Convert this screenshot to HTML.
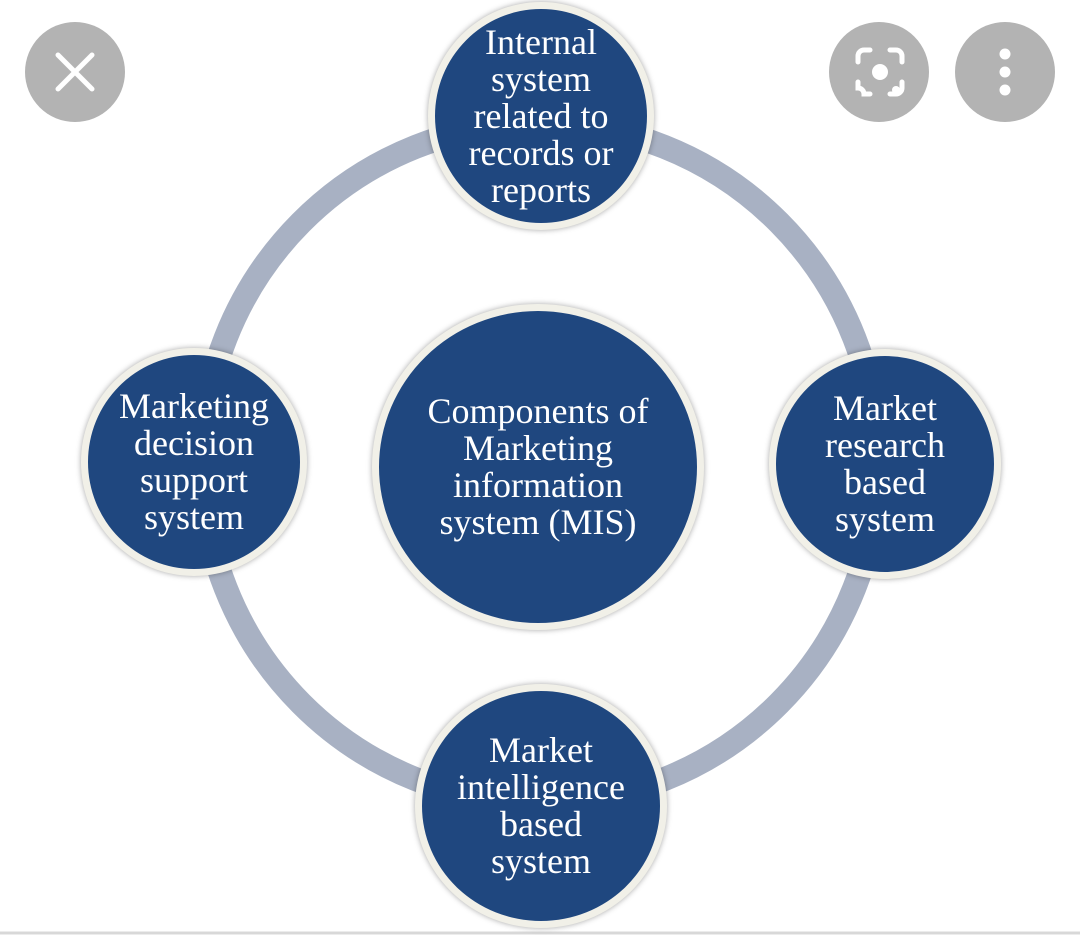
<!DOCTYPE html>
<html><head><meta charset="utf-8"><style>
html,body{margin:0;padding:0;background:#fff;}
body{width:1080px;height:936px;position:relative;overflow:hidden;font-family:"Liberation Serif",serif;}
.n{position:absolute;border-radius:50%;background:#1f477f;border:7px solid #f1f0e8;box-shadow:0 0 6px rgba(0,0,0,0.35);box-sizing:border-box;display:flex;align-items:center;justify-content:center;text-align:center;color:#fff;font-size:36px;line-height:37px;}
.b{position:absolute;border-radius:50%;background:#b3b3b3;width:100px;height:100px;}
</style></head><body>
<svg width="1080" height="936" style="position:absolute;left:0;top:0">
<ellipse cx="540" cy="463" rx="338" ry="340" fill="none" stroke="#a8b1c3" stroke-width="24"/>
<line x1="0" y1="933" x2="1080" y2="933" stroke="#d8d8d8" stroke-width="3"/>
</svg>
<div class="n" style="left:428px;top:2px;width:226px;height:228px;">Internal<br>system<br>related to<br>records or<br>reports</div>
<div class="n" style="left:81px;top:348px;width:226px;height:228px;">Marketing<br>decision<br>support<br>system</div>
<div class="n" style="left:769px;top:349px;width:232px;height:230px;">Market<br>research<br>based<br>system</div>
<div class="n" style="left:415px;top:684px;width:252px;height:244px;">Market<br>intelligence<br>based<br>system</div>
<div class="n" style="left:372px;top:304px;width:332px;height:326px;">Components of<br>Marketing<br>information<br>system (MIS)</div>
<div class="b" style="left:25px;top:22px;"></div>
<svg width="1080" height="140" style="position:absolute;left:0;top:0">
<path d="M58 55 L92 89 M92 55 L58 89" stroke="#fff" stroke-width="5" stroke-linecap="round"/>
</svg>
<div class="b" style="left:829px;top:22px;"></div>
<div class="b" style="left:955px;top:22px;"></div>
<svg width="1080" height="140" style="position:absolute;left:0;top:0">
<path d="M858 62 V56 a6 6 0 0 1 6 -6 H870 M890 50 H896 a6 6 0 0 1 6 6 V62 M902 82 V88 a6 6 0 0 1 -6 6 H890 M858 82 V88 a6 6 0 0 1 6 6 H870" stroke="#fff" stroke-width="5" fill="none" stroke-linecap="round"/>
<circle cx="880" cy="72" r="8" fill="#fff"/>
<circle cx="896" cy="90" r="4" fill="#fff"/>
<circle cx="1005" cy="54" r="5.5" fill="#fff"/>
<circle cx="1005" cy="72" r="5.5" fill="#fff"/>
<circle cx="1005" cy="90" r="5.5" fill="#fff"/>
</svg>
</body></html>
